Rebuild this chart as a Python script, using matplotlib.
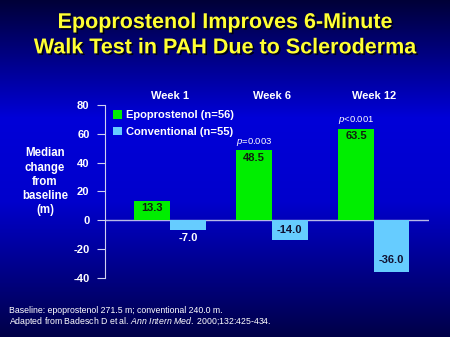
import numpy as np
import matplotlib
matplotlib.use("Agg")
import matplotlib.pyplot as plt
import matplotlib.patheffects as pe
from matplotlib.colors import LinearSegmentedColormap

plt.rcParams['font.family'] = ['Liberation Sans', 'DejaVu Sans']
plt.rcParams['mathtext.fontset'] = 'custom'
plt.rcParams['mathtext.rm'] = 'Liberation Sans'
plt.rcParams['mathtext.it'] = 'Liberation Sans:italic'
plt.rcParams['axes.unicode_minus'] = False

weeks = ['Week 1', 'Week 6', 'Week 12']
epo = [13.3, 48.5, 63.5]
conv = [-7.0, -14.0, -36.0]
pvals = ['', r'$p$=0.003', r'$p$<0.001']
yticks = [-40, -20, 0, 20, 40, 60, 80]

green = '#00ee00'
lblue = '#66ccff'

fig = plt.figure(figsize=(4.5, 3.37), dpi=100)

# background gradient
bg = fig.add_axes([0, 0, 1, 1])
cmap = LinearSegmentedColormap.from_list('bg', [(0.0, '#000038'), (0.35, '#0000d8'),
                                                (0.6, '#0000cc'), (1.0, '#000048')])
bg.imshow(np.linspace(0, 1, 256).reshape(-1, 1), aspect='auto', cmap=cmap,
          extent=[0, 1, 0, 1], origin='upper')
bg.set_axis_off()

shadow = [pe.withSimplePatchShadow(offset=(1.2, -1.2), shadow_rgbFace='#000000', alpha=0.8)]
fig.text(0.5, 0.933, 'Epoprostenol Improves 6-Minute', ha='center', va='center',
         color='#ffff33', fontsize=15.5, fontweight='bold', path_effects=shadow)
fig.text(0.5, 0.858, 'Walk Test in PAH Due to Scleroderma', ha='center', va='center',
         color='#ffff33', fontsize=15.5, fontweight='bold', path_effects=shadow)

ax = fig.add_axes([0.233, 0.176, 0.72, 0.512])
ax.patch.set_alpha(0)
x = np.arange(len(weeks))
w = 0.35
ax.bar(x - w / 2, epo, w, color=green, label='Epoprostenol (n=56)', zorder=2)
ax.bar(x + w / 2, conv, w, color=lblue, label='Conventional (n=55)', zorder=2)
ax.axhline(0, color='#b8b8e8', lw=1, zorder=1)

ax.set_xlim(-0.64, 2.54)
ax.set_ylim(-40, 80)
ax.set_yticks(yticks)
ax.set_xticks([])
for s in ['top', 'right', 'bottom']:
    ax.spines[s].set_visible(False)
ax.spines['left'].set_color('#d0d0f0')
ax.spines['left'].set_bounds(-40, 80)
ax.tick_params(axis='y', colors='#d0d0f0', length=6, labelsize=8, labelcolor='white', pad=5)
for t in ax.get_yticklabels():
    t.set_fontweight('bold')

# value labels
for i in range(len(weeks)):
    ax.text(x[i] - w / 2, epo[i] - 1.5, f'{epo[i]:.1f}', ha='center', va='top',
            color='#102010', fontsize=8, fontweight='bold', zorder=3)
    if i == 0:
        ax.text(x[i] + w / 2, conv[i] - 2, f'{conv[i]:.1f}', ha='center', va='top',
                color='white', fontsize=8, fontweight='bold', zorder=3)
    elif i == 1:
        ax.text(x[i] + w / 2, conv[i] / 2, f'{conv[i]:.1f}', ha='center', va='center',
                color='#101030', fontsize=8, fontweight='bold', zorder=3)
    else:
        ax.text(x[i] + w / 2, conv[i] + 8, f'{conv[i]:.1f}', ha='center', va='center',
                color='#101030', fontsize=8, fontweight='bold', zorder=3)
    if pvals[i]:
        ax.text(x[i] - w / 2, epo[i] + 2, pvals[i], ha='center', va='bottom',
                color='white', fontsize=6.8, zorder=3)
    ax.text(x[i], 86.5, weeks[i], ha='center', va='center', color='white',
            fontsize=8, fontweight='bold', clip_on=False)

leg = ax.legend(loc='upper left', bbox_to_anchor=(0.0, 1.015), frameon=False,
                handlelength=0.8, handleheight=0.8, handletextpad=0.4,
                labelspacing=0.55, fontsize=8, borderaxespad=0.3)
for t in leg.get_texts():
    t.set_color('white')
    t.set_fontweight('bold')

fig.text(0.1, 0.46, 'Median\nchange\nfrom\nbaseline\n(m)', ha='center', va='center',
         color='white', fontsize=8.3, fontweight='bold', linespacing=1.25)

fig.text(0.02, 0.08, 'Baseline: epoprostenol 271.5 m; conventional 240.0 m.',
         color='white', fontsize=6.3, ha='left', va='center')
fig.text(0.02, 0.045, r'Adapted from Badesch D et al. $\it{Ann\ Intern\ Med.}$ 2000;132:425-434.',
         color='white', fontsize=6.3, ha='left', va='center')

fig.savefig('out.png', dpi=100)
